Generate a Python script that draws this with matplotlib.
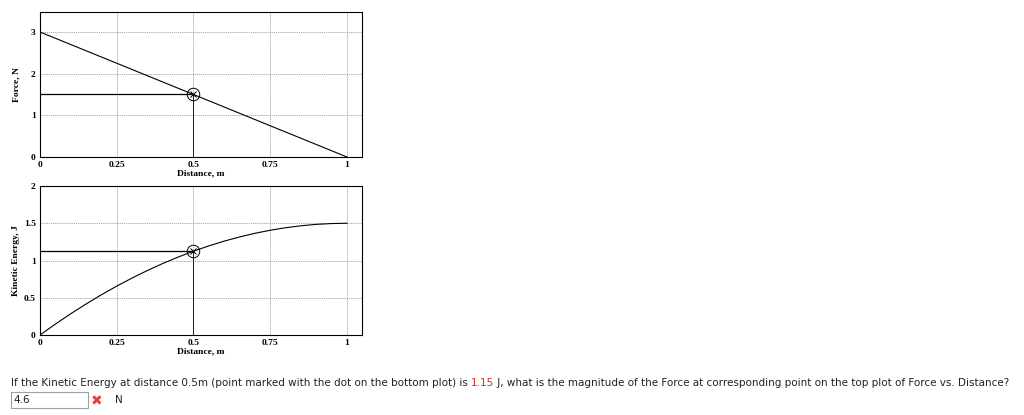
import numpy as np
import matplotlib
matplotlib.use('Agg')
import matplotlib.pyplot as plt
from matplotlib.patches import Rectangle

# values
dist_force = [0, 1]
force = [3, 0]
dist_ke = [0, 0.05, 0.1, 0.15, 0.2, 0.25, 0.3, 0.35, 0.4, 0.45, 0.5,
           0.55, 0.6, 0.65, 0.7, 0.75, 0.8, 0.85, 0.9, 0.95, 1.0]
ke = [0, 0.146, 0.285, 0.416, 0.54, 0.656, 0.765, 0.866, 0.96, 1.046, 1.125,
      1.196, 1.26, 1.316, 1.365, 1.406, 1.44, 1.466, 1.485, 1.496, 1.5]
x_mark = 0.5
f_mark = 1.5
ke_mark = 1.125
xticks = [0, 0.25, 0.5, 0.75, 1]
xtick_labels = ['0', '0.25', '0.5', '0.75', '1']
f_ticks = [0, 1, 2, 3]
ke_ticks = [0, 0.5, 1, 1.5, 2]
ke_tick_labels = ['0', '0.5', '1', '1.5', '2']
question = ("If the Kinetic Energy at distance 0.5m (point marked with the dot on the "
            "bottom plot) is ")
ke_given = "1.15"
question_end = (" J, what is the magnitude of the Force at corresponding point on the "
                "top plot of Force vs. Distance?")
answer = "4.6"

W, H = 1024, 415
fig = plt.figure(figsize=(W / 100, H / 100), dpi=100)
serif = ['Liberation Serif', 'DejaVu Serif']


def px_axes(l, t, r, b):
    return fig.add_axes([l / W, 1 - b / H, (r - l) / W, (b - t) / H])


def style(ax, yticks, ylabels, ylim, ylabel):
    ax.set_xlim(0, 1.049)
    ax.set_ylim(*ylim)
    ax.set_xticks(xticks)
    ax.set_xticklabels(xtick_labels)
    ax.set_yticks(yticks)
    ax.set_yticklabels(ylabels)
    ax.tick_params(length=0, pad=3, labelsize=6.8)
    for lab in ax.get_xticklabels() + ax.get_yticklabels():
        lab.set_family(serif)
        lab.set_fontweight('bold')
    ax.grid(True, color='#a0a0a0', linestyle=(0, (1.5, 1)), linewidth=0.6)
    for s in ax.spines.values():
        s.set_linewidth(0.8)
    ax.set_xlabel('Distance, m', family=serif, fontweight='bold', fontsize=6.8, labelpad=0)
    ax.set_ylabel(ylabel, family=serif, fontweight='bold', fontsize=6.8)
    ax.yaxis.set_label_coords(-20 / 322, 0.5)


def mark(ax, x, y):
    ax.plot([0, x], [y, y], color='black', lw=0.9)
    ax.plot([x, x], [0, y], color='black', lw=0.6)
    ax.plot([x], [y], marker='o', ms=9, mfc='none', mec='black', mew=0.7)
    ax.plot([x], [y], marker='x', ms=4, color='black', mew=0.7)


ax1 = px_axes(40, 12, 362, 157)
ax1.plot(dist_force, force, color='black', lw=0.8)
mark(ax1, x_mark, f_mark)
style(ax1, f_ticks, [str(t) for t in f_ticks], (0, 3.48), 'Force, N')

ax2 = px_axes(40, 186, 362, 335)
ax2.plot(dist_ke, ke, color='black', lw=0.8)
mark(ax2, x_mark, ke_mark)
style(ax2, ke_ticks, ke_tick_labels, (0, 2), 'Kinetic Energy, J')

# question text
tsize = 7.5
t1 = fig.text(11 / W, 1 - 383 / H, question, fontsize=tsize, color='#222222',
              family='DejaVu Sans', va='center')
fig.canvas.draw()
r = fig.canvas.get_renderer()
x1 = t1.get_window_extent(r).x1
t2 = fig.text(x1 / W, 1 - 383 / H, ke_given, fontsize=tsize, color='#e8251f',
              family='DejaVu Sans', va='center')
x2 = t2.get_window_extent(r).x1
fig.text(x2 / W, 1 - 383 / H, question_end, fontsize=tsize, color='#222222',
         family='DejaVu Sans', va='center')

fig.patches.append(Rectangle((11 / W, 1 - 408 / H), 77 / W, 16 / H, transform=fig.transFigure,
                             facecolor='white', edgecolor='#a0a0a0', lw=0.8))
fig.text(13 / W, 1 - 400 / H, answer, fontsize=tsize, color='#222222',
         family='DejaVu Sans', va='center')
fig.text(97 / W, 1 - 401 / H, '\u2716', fontsize=10, color='#e84040',
         family='DejaVu Sans', va='center', ha='center')
fig.text(115 / W, 1 - 400 / H, 'N', fontsize=tsize, color='#222222',
         family='DejaVu Sans', va='center')

fig.savefig('out.png', dpi=100)
